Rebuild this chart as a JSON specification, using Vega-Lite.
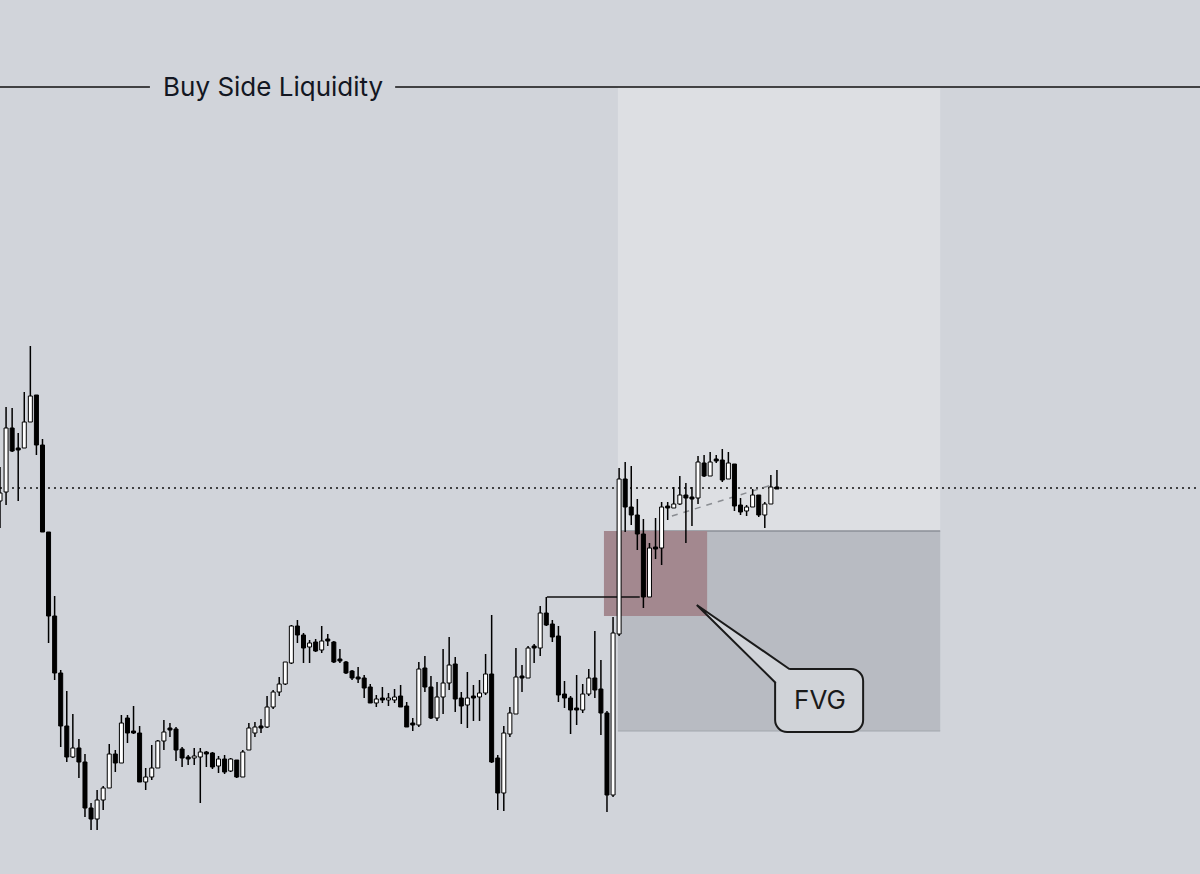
{
  "$schema": "https://vega.github.io/schema/vega-lite/v6.json",
  "width": 1200,
  "height": 874,
  "padding": 0,
  "autosize": {"type": "none"},
  "background": "#d1d4da",
  "config": {"view": {"stroke": null}, "scale": {"continuousPadding": 0}},
  "datasets": {
    "candles": [
      {"i":0,"o":373,"h":407,"l":346,"c":381},
      {"i":1,"o":382,"h":467,"l":369,"c":446},
      {"i":2,"o":446,"h":466,"l":422,"c":423},
      {"i":3,"o":426,"h":441,"l":373,"c":424},
      {"i":4,"o":426,"h":482,"l":426,"c":452},
      {"i":5,"o":452,"h":528,"l":452,"c":478},
      {"i":6,"o":479,"h":479,"l":419,"c":429},
      {"i":7,"o":429,"h":435,"l":342,"c":342},
      {"i":8,"o":342,"h":342,"l":231,"c":258},
      {"i":9,"o":258,"h":278,"l":194,"c":201},
      {"i":10,"o":201,"h":204,"l":127,"c":148},
      {"i":11,"o":148,"h":183,"l":112,"c":117},
      {"i":12,"o":117,"h":160,"l":116,"c":126},
      {"i":13,"o":126,"h":135,"l":96,"c":112},
      {"i":14,"o":112,"h":120,"l":57,"c":66},
      {"i":15,"o":66,"h":71,"l":44,"c":55},
      {"i":16,"o":55,"h":84,"l":44,"c":74},
      {"i":17,"o":74,"h":88,"l":64,"c":86},
      {"i":18,"o":86,"h":130,"l":86,"c":120},
      {"i":19,"o":120,"h":124,"l":102,"c":111},
      {"i":20,"o":111,"h":159,"l":111,"c":151},
      {"i":21,"o":156,"h":159,"l":131,"c":141},
      {"i":22,"o":143,"h":168,"l":140,"c":141},
      {"i":23,"o":141,"h":148,"l":92,"c":92},
      {"i":24,"o":92,"h":106,"l":84,"c":97},
      {"i":25,"o":97,"h":129,"l":94,"c":106},
      {"i":26,"o":106,"h":134,"l":106,"c":133},
      {"i":27,"o":133,"h":154,"l":124,"c":142},
      {"i":28,"o":146,"h":151,"l":137,"c":144},
      {"i":29,"o":145,"h":147,"l":113,"c":124},
      {"i":30,"o":125,"h":127,"l":107,"c":116},
      {"i":31,"o":117,"h":119,"l":109,"c":115},
      {"i":32,"o":116,"h":126,"l":109,"c":118},
      {"i":33,"o":117,"h":126,"l":71,"c":122},
      {"i":34,"o":122,"h":123,"l":107,"c":120},
      {"i":35,"o":121,"h":122,"l":105,"c":107},
      {"i":36,"o":108,"h":118,"l":101,"c":115},
      {"i":37,"o":115,"h":119,"l":100,"c":102},
      {"i":38,"o":103,"h":116,"l":102,"c":115},
      {"i":39,"o":114,"h":114,"l":96,"c":97},
      {"i":40,"o":97,"h":124,"l":97,"c":122},
      {"i":41,"o":124,"h":151,"l":124,"c":146},
      {"i":42,"o":141,"h":152,"l":137,"c":147},
      {"i":43,"o":148,"h":155,"l":141,"c":146},
      {"i":44,"o":147,"h":178,"l":146,"c":167},
      {"i":45,"o":167,"h":184,"l":165,"c":182},
      {"i":46,"o":182,"h":197,"l":178,"c":190},
      {"i":47,"o":190,"h":212,"l":189,"c":212},
      {"i":48,"o":211,"h":249,"l":210,"c":248},
      {"i":49,"o":248,"h":254,"l":231,"c":239},
      {"i":50,"o":239,"h":241,"l":211,"c":226},
      {"i":51,"o":227,"h":234,"l":211,"c":231},
      {"i":52,"o":232,"h":235,"l":222,"c":223},
      {"i":53,"o":224,"h":248,"l":221,"c":233},
      {"i":54,"o":235,"h":240,"l":228,"c":233},
      {"i":55,"o":232,"h":233,"l":211,"c":212},
      {"i":56,"o":215,"h":225,"l":211,"c":213},
      {"i":57,"o":212,"h":213,"l":200,"c":201},
      {"i":58,"o":203,"h":204,"l":194,"c":196},
      {"i":59,"o":197,"h":207,"l":191,"c":195},
      {"i":60,"o":196,"h":199,"l":176,"c":186},
      {"i":61,"o":187,"h":190,"l":171,"c":171},
      {"i":62,"o":171,"h":179,"l":167,"c":175},
      {"i":63,"o":176,"h":187,"l":171,"c":174},
      {"i":64,"o":174,"h":181,"l":168,"c":176},
      {"i":65,"o":174,"h":185,"l":171,"c":177},
      {"i":66,"o":178,"h":189,"l":167,"c":167},
      {"i":67,"o":168,"h":172,"l":147,"c":147},
      {"i":68,"o":151,"h":156,"l":143,"c":149},
      {"i":69,"o":149,"h":212,"l":147,"c":205},
      {"i":70,"o":206,"h":218,"l":182,"c":187},
      {"i":71,"o":187,"h":198,"l":155,"c":156},
      {"i":72,"o":156,"h":192,"l":153,"c":177},
      {"i":73,"o":177,"h":225,"l":160,"c":191},
      {"i":74,"o":191,"h":237,"l":184,"c":209},
      {"i":75,"o":210,"h":217,"l":162,"c":175},
      {"i":76,"o":176,"h":182,"l":150,"c":168},
      {"i":77,"o":169,"h":202,"l":146,"c":176},
      {"i":78,"o":178,"h":189,"l":153,"c":176},
      {"i":79,"o":177,"h":194,"l":153,"c":181},
      {"i":80,"o":181,"h":220,"l":179,"c":200},
      {"i":81,"o":200,"h":259,"l":111,"c":112},
      {"i":82,"o":116,"h":119,"l":64,"c":81},
      {"i":83,"o":81,"h":148,"l":63,"c":141},
      {"i":84,"o":140,"h":167,"l":137,"c":161},
      {"i":85,"o":160,"h":226,"l":160,"c":197},
      {"i":86,"o":198,"h":209,"l":182,"c":196},
      {"i":87,"o":196,"h":228,"l":196,"c":226},
      {"i":88,"o":228,"h":230,"l":211,"c":226},
      {"i":89,"o":226,"h":268,"l":218,"c":261},
      {"i":90,"o":261,"h":277,"l":248,"c":249},
      {"i":91,"o":250,"h":254,"l":232,"c":237},
      {"i":92,"o":238,"h":248,"l":172,"c":179},
      {"i":93,"o":180,"h":193,"l":166,"c":176},
      {"i":94,"o":176,"h":178,"l":140,"c":164},
      {"i":95,"o":166,"h":199,"l":149,"c":164},
      {"i":96,"o":164,"h":190,"l":161,"c":180},
      {"i":97,"o":180,"h":205,"l":178,"c":196},
      {"i":98,"o":196,"h":243,"l":176,"c":184},
      {"i":99,"o":185,"h":214,"l":139,"c":161},
      {"i":100,"o":161,"h":163,"l":62,"c":79},
      {"i":101,"o":79,"h":257,"l":77,"c":241},
      {"i":102,"o":240,"h":406,"l":238,"c":395},
      {"i":103,"o":395,"h":412,"l":342,"c":367},
      {"i":104,"o":367,"h":408,"l":349,"c":359},
      {"i":105,"o":359,"h":375,"l":324,"c":340},
      {"i":106,"o":340,"h":355,"l":266,"c":277},
      {"i":107,"o":277,"h":331,"l":277,"c":326},
      {"i":108,"o":327,"h":356,"l":315,"c":325},
      {"i":109,"o":326,"h":372,"l":309,"c":367},
      {"i":110,"o":368,"h":372,"l":354,"c":366},
      {"i":111,"o":366,"h":387,"l":366,"c":370},
      {"i":112,"o":370,"h":398,"l":369,"c":379},
      {"i":113,"o":379,"h":391,"l":331,"c":376},
      {"i":114,"o":377,"h":387,"l":348,"c":375},
      {"i":115,"o":376,"h":418,"l":370,"c":412},
      {"i":116,"o":411,"h":419,"l":397,"c":398},
      {"i":117,"o":398,"h":422,"l":398,"c":412},
      {"i":118,"o":415,"h":419,"l":411,"c":413},
      {"i":119,"o":414,"h":425,"l":392,"c":394},
      {"i":120,"o":395,"h":422,"l":395,"c":411},
      {"i":121,"o":410,"h":410,"l":363,"c":368},
      {"i":122,"o":369,"h":376,"l":359,"c":362},
      {"i":123,"o":363,"h":369,"l":358,"c":367},
      {"i":124,"o":367,"h":385,"l":367,"c":379},
      {"i":125,"o":379,"h":379,"l":357,"c":359},
      {"i":126,"o":359,"h":372,"l":346,"c":370},
      {"i":127,"o":370,"h":399,"l":370,"c":387},
      {"i":128,"o":387,"h":404,"l":385,"c":385}
    ]
  },
  "layer": [
    {
      "data": {"values": [{"x1": 101.8, "x2": 154.9, "p1": 343, "p2": 787}]},
      "mark": {"type": "rect", "color": "#dddfe3"},
      "encoding": {
        "x": {"field": "x1", "type": "quantitative", "scale": {"domain": [0, 197.7], "nice": false, "zero": false, "padding": 0}, "axis": null},
        "x2": {"field": "x2"},
        "y": {"field": "p1", "type": "quantitative", "scale": {"domain": [0, 874], "nice": false, "zero": false}, "axis": null},
        "y2": {"field": "p2"}
      }
    },
    {
      "data": {"values": [{"x1": 101.8, "x2": 154.9, "p1": 143, "p2": 343}]},
      "mark": {"type": "rect", "color": "#b8bbc2"},
      "encoding": {
        "x": {"field": "x1", "type": "quantitative", "scale": {"domain": [0, 197.7], "nice": false, "zero": false, "padding": 0}, "axis": null},
        "x2": {"field": "x2"},
        "y": {"field": "p1", "type": "quantitative", "scale": {"domain": [0, 874], "nice": false, "zero": false}, "axis": null},
        "y2": {"field": "p2"}
      }
    },
    {
      "data": {"values": [{"x1": 101.8, "x2": 154.9, "p": 343}]},
      "mark": {"type": "rule", "color": "#8b8f97", "strokeWidth": 1.5},
      "encoding": {
        "x": {"field": "x1", "type": "quantitative", "scale": {"domain": [0, 197.7], "nice": false, "zero": false, "padding": 0}, "axis": null},
        "x2": {"field": "x2"},
        "y": {"field": "p", "type": "quantitative", "scale": {"domain": [0, 874], "nice": false, "zero": false}, "axis": null}
      }
    },
    {
      "data": {"values": [{"x1": 101.8, "x2": 154.9, "p": 143}]},
      "mark": {"type": "rule", "color": "#a2a6ad", "strokeWidth": 1},
      "encoding": {
        "x": {"field": "x1", "type": "quantitative", "scale": {"domain": [0, 197.7], "nice": false, "zero": false, "padding": 0}, "axis": null},
        "x2": {"field": "x2"},
        "y": {"field": "p", "type": "quantitative", "scale": {"domain": [0, 874], "nice": false, "zero": false}, "axis": null}
      }
    },
    {
      "data": {"values": [{"x1": 99.5, "x2": 116.5, "p1": 258, "p2": 343}]},
      "mark": {"type": "rect", "color": "#a3888f"},
      "encoding": {
        "x": {"field": "x1", "type": "quantitative", "scale": {"domain": [0, 197.7], "nice": false, "zero": false, "padding": 0}, "axis": null},
        "x2": {"field": "x2"},
        "y": {"field": "p1", "type": "quantitative", "scale": {"domain": [0, 874], "nice": false, "zero": false}, "axis": null},
        "y2": {"field": "p2"}
      }
    },
    {
      "data": {"values": [{"x1": 0, "x2": 197.7, "p": 386}]},
      "mark": {"type": "rule", "color": "#111111", "strokeWidth": 1.5, "strokeDash": [2, 4]},
      "encoding": {
        "x": {"field": "x1", "type": "quantitative", "scale": {"domain": [0, 197.7], "nice": false, "zero": false, "padding": 0}, "axis": null},
        "x2": {"field": "x2"},
        "y": {"field": "p", "type": "quantitative", "scale": {"domain": [0, 874], "nice": false, "zero": false}, "axis": null}
      }
    },
    {
      "data": {"values": [{"x1": 0, "x2": 24.7, "p": 787}, {"x1": 65.1, "x2": 197.7, "p": 787}]},
      "mark": {"type": "rule", "color": "#111111", "strokeWidth": 1.5},
      "encoding": {
        "x": {"field": "x1", "type": "quantitative", "scale": {"domain": [0, 197.7], "nice": false, "zero": false, "padding": 0}, "axis": null},
        "x2": {"field": "x2"},
        "y": {"field": "p", "type": "quantitative", "scale": {"domain": [0, 874], "nice": false, "zero": false}, "axis": null}
      }
    },
    {
      "data": {"values": [{"x": 45.0, "p": 778, "label": "Buy Side Liquidity"}]},
      "mark": {"type": "text", "font": "Inter", "fontSize": 26, "color": "#131722", "align": "center", "baseline": "alphabetic"},
      "encoding": {
        "x": {"field": "x", "type": "quantitative", "scale": {"domain": [0, 197.7], "nice": false, "zero": false, "padding": 0}, "axis": null},
        "y": {"field": "p", "type": "quantitative", "scale": {"domain": [0, 874], "nice": false, "zero": false}, "axis": null},
        "text": {"field": "label"}
      }
    },
    {
      "data": {"values": [{"x1": 90.1, "x2": 105.4, "p": 277}]},
      "mark": {"type": "rule", "color": "#111111", "strokeWidth": 1.5},
      "encoding": {
        "x": {"field": "x1", "type": "quantitative", "scale": {"domain": [0, 197.7], "nice": false, "zero": false, "padding": 0}, "axis": null},
        "x2": {"field": "x2"},
        "y": {"field": "p", "type": "quantitative", "scale": {"domain": [0, 874], "nice": false, "zero": false}, "axis": null}
      }
    },
    {
      "data": {"values": [{"x1": 110.7, "x2": 127.7, "p1": 358, "p2": 390}]},
      "mark": {"type": "rule", "color": "#8a8d92", "strokeWidth": 1.5, "strokeDash": [6, 6]},
      "encoding": {
        "x": {"field": "x1", "type": "quantitative", "scale": {"domain": [0, 197.7], "nice": false, "zero": false, "padding": 0}, "axis": null},
        "x2": {"field": "x2"},
        "y": {"field": "p1", "type": "quantitative", "scale": {"domain": [0, 874], "nice": false, "zero": false}, "axis": null},
        "y2": {"field": "p2"}
      }
    },
    {
      "data": {"name": "candles"},
      "mark": {"type": "rule", "color": "#000000", "strokeWidth": 1.5},
      "encoding": {
        "x": {"field": "i", "type": "quantitative", "scale": {"domain": [0, 197.7], "nice": false, "zero": false, "padding": 0}, "axis": null},
        "y": {"field": "l", "type": "quantitative", "scale": {"domain": [0, 874], "nice": false, "zero": false}, "axis": null},
        "y2": {"field": "h"}
      }
    },
    {
      "data": {"name": "candles"},
      "mark": {"type": "bar", "size": 4, "orient": "vertical", "stroke": "#000000", "strokeWidth": 1},
      "encoding": {
        "x": {"field": "i", "type": "quantitative", "scale": {"domain": [0, 197.7], "nice": false, "zero": false, "padding": 0}, "axis": null},
        "y": {"field": "o", "type": "quantitative", "scale": {"domain": [0, 874], "nice": false, "zero": false}, "axis": null},
        "y2": {"field": "c"},
        "fill": {"condition": {"test": "datum.c >= datum.o", "value": "#ffffff"}, "value": "#000000"}
      }
    },
    {
      "data": {"values": [{"x1": 127.7, "x2": 142.2, "p1": 142, "p2": 205}]},
      "mark": {"type": "rect", "fill": "#d0d3d8", "stroke": "#1a1a1a", "strokeWidth": 2, "cornerRadius": 12},
      "encoding": {
        "x": {"field": "x1", "type": "quantitative", "scale": {"domain": [0, 197.7], "nice": false, "zero": false, "padding": 0}, "axis": null},
        "x2": {"field": "x2"},
        "y": {"field": "p1", "type": "quantitative", "scale": {"domain": [0, 874], "nice": false, "zero": false}, "axis": null},
        "y2": {"field": "p2"}
      }
    },
    {
      "data": {"values": [{"k": 0, "x": 127.8, "p": 191}, {"k": 1, "x": 114.8, "p": 269}, {"k": 2, "x": 130.1, "p": 204.8}]},
      "mark": {"type": "line", "interpolate": "linear", "filled": true, "fill": "#d0d3d8", "stroke": "#1a1a1a", "strokeWidth": 2, "strokeJoin": "miter"},
      "encoding": {
        "x": {"field": "x", "type": "quantitative", "scale": {"domain": [0, 197.7], "nice": false, "zero": false, "padding": 0}, "axis": null},
        "y": {"field": "p", "type": "quantitative", "scale": {"domain": [0, 874], "nice": false, "zero": false}, "axis": null},
        "order": {"field": "k", "type": "quantitative"}
      }
    },
    {
      "data": {"values": [{"x": 135.1, "p": 165, "label": "FVG"}]},
      "mark": {"type": "text", "font": "Inter", "fontSize": 26, "color": "#1a1a1a", "align": "center", "baseline": "alphabetic"},
      "encoding": {
        "x": {"field": "x", "type": "quantitative", "scale": {"domain": [0, 197.7], "nice": false, "zero": false, "padding": 0}, "axis": null},
        "y": {"field": "p", "type": "quantitative", "scale": {"domain": [0, 874], "nice": false, "zero": false}, "axis": null},
        "text": {"field": "label"}
      }
    }
  ]
}
